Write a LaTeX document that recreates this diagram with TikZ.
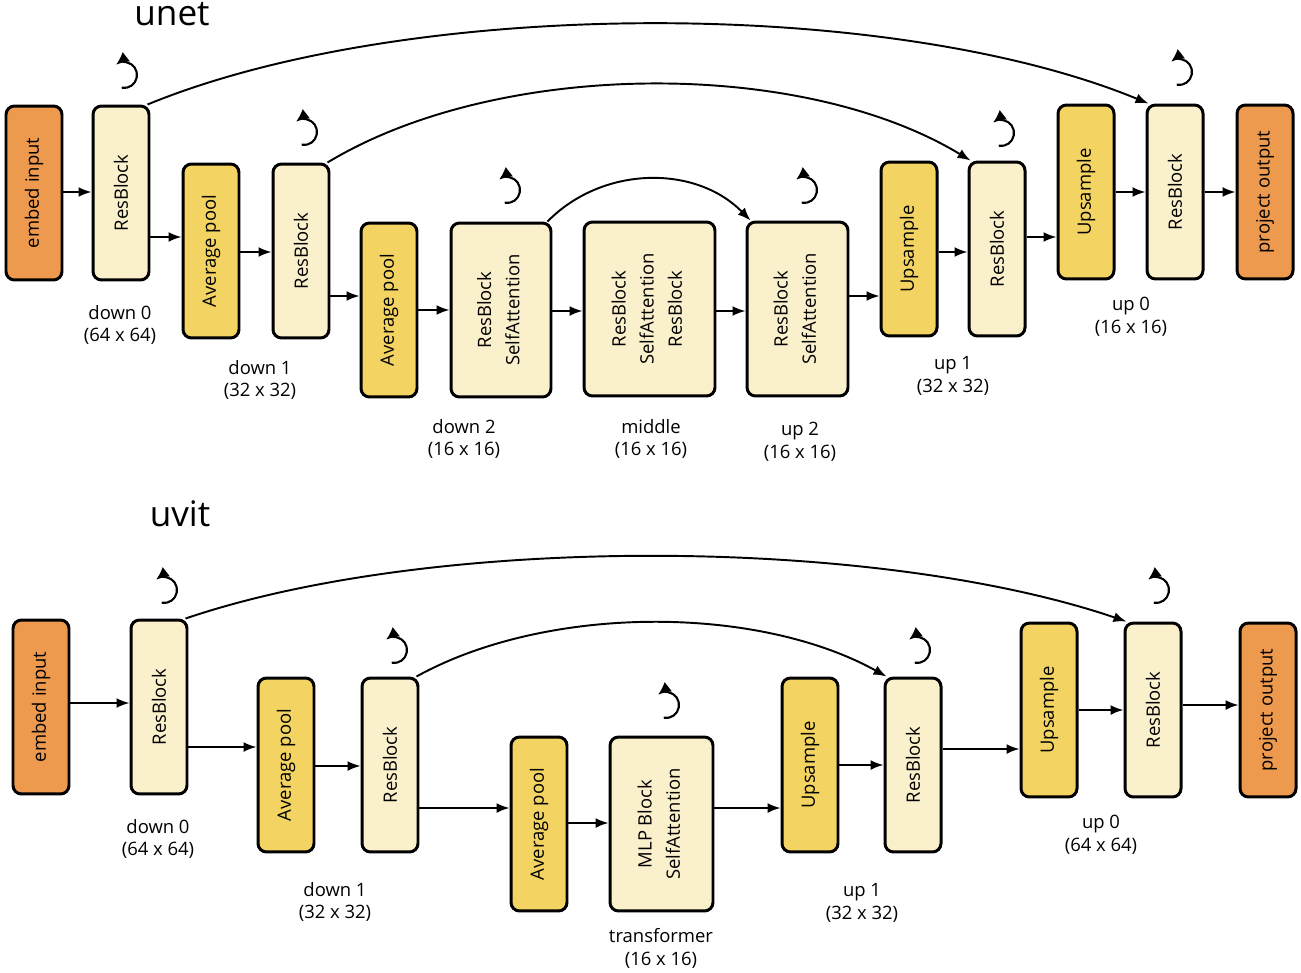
\documentclass[tikz,border=0pt]{standalone}
\usepackage{fontspec}
\setmainfont{Open Sans}
\usetikzlibrary{arrows.meta}
\definecolor{orng}{HTML}{EE9A4E}
\definecolor{ylw}{HTML}{F3D462}
\definecolor{crm}{HTML}{FBF0CC}
\tikzset{
 blk/.style={draw=black,line width=1.7pt,rounded corners=0.17cm,minimum width=1.12cm,minimum height=3.48cm,inner sep=0pt,font=\fontsize{10.5}{12}\selectfont},
 wide/.style={blk,minimum width=2cm},
 emb/.style={blk,fill=orng},
 pool/.style={blk,fill=ylw},
 res/.style={blk,fill=crm},
 arr/.style={-{Latex[length=2.6mm,width=2mm]},line width=1.1pt},
 loopa/.style={-{Latex[length=2.6mm,width=2.4mm]},line width=1.2pt},
 lbl/.style={align=center,font=\fontsize{10.5}{13}\selectfont},
 ttl/.style={font=\fontsize{20}{24}\selectfont}
}
\newcommand{\rt}[1]{\rotatebox{90}{#1}}
\newcommand{\lp}[2]{\draw[loopa] ([shift={(-100:0.26cm)}]#1,#2) arc[start angle=-100,end angle=128,radius=0.26cm];}
\begin{document}
\begin{tikzpicture}[x=0.02cm,y=-0.02cm]
\useasboundingbox (0,0) rectangle (1301,973);
% ---------- unet
\node[ttl] (t1) at (172,14) {unet};
\node[emb]  (a0) at (34,193) {\rt{embed input}};
\node[res]  (a1) at (121,193) {\rt{ResBlock}};
\node[pool] (a2) at (211,251) {\rt{Average pool}};
\node[res]  (a3) at (301,251) {\rt{ResBlock}};
\node[pool] (a4) at (389,310) {\rt{Average pool}};
\node[res,minimum width=2cm] (a5) at (501,310) {\rt{\begin{tabular}{c}ResBlock\\[4pt]SelfAttention\end{tabular}}};
\node[res,minimum width=2.62cm] (a6) at (649.5,309) {\rt{\begin{tabular}{c}ResBlock\\[4pt]SelfAttention\\[4pt]ResBlock\end{tabular}}};
\node[res,minimum width=2.02cm] (a7) at (797.5,309) {\rt{\begin{tabular}{c}ResBlock\\[4pt]SelfAttention\end{tabular}}};
\node[pool] (a8) at (909,249) {\rt{Upsample}};
\node[res]  (a9) at (997,249) {\rt{ResBlock}};
\node[pool] (a10) at (1086,192) {\rt{Upsample}};
\node[res]  (a11) at (1175,192) {\rt{ResBlock}};
\node[emb]  (a12) at (1265,192) {\rt{project output}};
\draw[arr] (a0.east |- 0,192) -- (a1.west |- 0,192);
\draw[arr] (a1.east |- 0,237) -- (a2.west |- 0,237);
\draw[arr] (a2.east |- 0,252) -- (a3.west |- 0,252);
\draw[arr] (a3.east |- 0,296) -- (a4.west |- 0,296);
\draw[arr] (a4.east |- 0,310) -- (a5.west |- 0,310);
\draw[arr] (a5.east |- 0,311) -- (a6.west |- 0,311);
\draw[arr] (a6.east |- 0,311) -- (a7.west |- 0,311);
\draw[arr] (a7.east |- 0,296) -- (a8.west |- 0,296);
\draw[arr] (a8.east |- 0,252) -- (a9.west |- 0,252);
\draw[arr] (a9.east |- 0,237) -- (a10.west |- 0,237);
\draw[arr] (a10.east |- 0,192) -- (a11.west |- 0,192);
\draw[arr] (a11.east |- 0,192) -- (a12.west |- 0,192);
\draw[arr] ([xshift=-0.06cm]a1.north east) .. controls +(260,-107) and +(-260,-107) .. ([xshift=0.06cm]a11.north west);
\draw[arr] ([xshift=-0.06cm]a3.north east) .. controls +(170,-103) and +(-170,-103) .. ([xshift=0.06cm]a9.north west);
\draw[arr] ([xshift=-0.1cm]a5.north east) .. controls +(55,-56) and +(-55,-56) .. ([xshift=0.1cm]a7.north west);
\lp{124}{75} \lp{304}{132} \lp{507}{190} \lp{804}{190} \lp{1001}{133} \lp{1179}{72}
\node[lbl] (l1) at (120,325) {down 0\\(64 x 64)};
\node[lbl] (l2) at (260,380) {down 1\\(32 x 32)};
\node[lbl] (l3) at (464,439) {down 2\\(16 x 16)};
\node[lbl] (l4) at (651,439) {middle\\(16 x 16)};
\node[lbl] (l5) at (800,442) {up 2\\(16 x 16)};
\node[lbl] (l6) at (953,376) {up 1\\(32 x 32)};
\node[lbl] (l7) at (1131,317) {up 0\\(16 x 16)};
% ---------- uvit
\node[ttl] (t2) at (180,514) {uvit};
\node[emb]  (b0) at (41,707) {\rt{embed input}};
\node[res]  (b1) at (159,707) {\rt{ResBlock}};
\node[pool] (b2) at (286,765) {\rt{Average pool}};
\node[res]  (b3) at (390,765) {\rt{ResBlock}};
\node[pool] (b4) at (539,824) {\rt{Average pool}};
\node[res,minimum width=2.06cm] (b5) at (661.5,824) {\rt{\begin{tabular}{c}MLP Block\\[4pt]SelfAttention\end{tabular}}};
\node[pool] (b6) at (810,765) {\rt{Upsample}};
\node[res]  (b7) at (913,765) {\rt{ResBlock}};
\node[pool] (b8) at (1049,710) {\rt{Upsample}};
\node[res]  (b9) at (1153,710) {\rt{ResBlock}};
\node[emb]  (b10) at (1268,710) {\rt{project output}};
\draw[arr] (b0.east |- 0,703) -- (b1.west |- 0,703);
\draw[arr] (b1.east |- 0,747) -- (b2.west |- 0,747);
\draw[arr] (b2.east |- 0,766) -- (b3.west |- 0,766);
\draw[arr] (b3.east |- 0,808) -- (b4.west |- 0,808);
\draw[arr] (b4.east |- 0,823) -- (b5.west |- 0,823);
\draw[arr] (b5.east |- 0,808) -- (b6.west |- 0,808);
\draw[arr] (b6.east |- 0,765) -- (b7.west |- 0,765);
\draw[arr] (b7.east |- 0,749) -- (b8.west |- 0,749);
\draw[arr] (b8.east |- 0,710) -- (b9.west |- 0,710);
\draw[arr] (b9.east |- 0,705) -- (b10.west |- 0,705);
\draw[arr] ([xshift=-0.06cm]b1.north east) .. controls +(250,-85) and +(-250,-85) .. ([xshift=0.06cm]b9.north west);
\draw[arr] ([xshift=-0.06cm]b3.north east) .. controls +(130,-72) and +(-130,-72) .. ([xshift=0.06cm]b7.north west);
\lp{164}{590} \lp{394}{650} \lp{666}{705} \lp{917}{650} \lp{1156}{590}
\node[lbl] (m1) at (158,839) {down 0\\(64 x 64)};
\node[lbl] (m2) at (335,902) {down 1\\(32 x 32)};
\node[lbl] (m3) at (661,948) {transformer\\(16 x 16)};
\node[lbl] (m4) at (862,903) {up 1\\(32 x 32)};
\node[lbl] (m5) at (1101,835) {up 0\\(64 x 64)};
\end{tikzpicture}
\end{document}
